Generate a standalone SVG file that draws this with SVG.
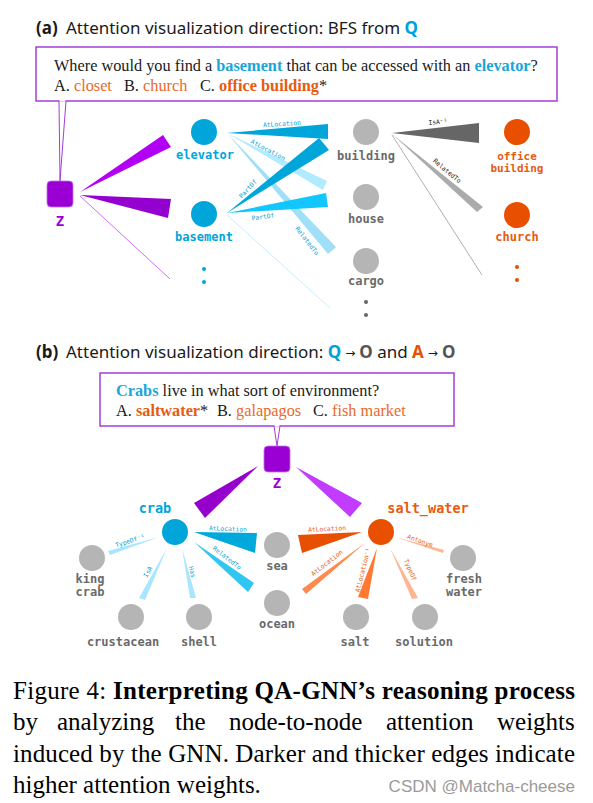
<svg xmlns="http://www.w3.org/2000/svg" width="593" height="803" viewBox="0 0 593 803">
<style>
.hdr{font-family:"Noto Sans","Open Sans",sans-serif;font-size:17px;fill:#1a1a1a}
.b{font-weight:bold}
.arr{font-family:"DejaVu Sans",sans-serif;font-size:12px}
.q{font-family:"Liberation Serif","Times New Roman",serif;font-size:16.3px;fill:#1a1a1a}
.qb{fill:#1aa6d8;font-weight:bold}
.qo{fill:#ea6a2a}
.qob{fill:#e85a10;font-weight:bold}
.box{fill:#fff;stroke:#a43ddb;stroke-width:1.5}
.tail{fill:#fff;stroke:#a43ddb;stroke-width:1}
.lbl{font-family:"DejaVu Sans Mono",monospace;font-weight:bold;font-size:12px;text-anchor:middle}
.blue{fill:#00a6da}
.gray{fill:#b5b5b5}
.gtx{fill:#6a6a6a}
.org{fill:#e85000}
.otx{fill:#e85a10}
.zn{fill:#9a00d4;stroke:#c070f0;stroke-width:0.8}
.zt{fill:#9a00d4;font-size:14px}
.el{font-family:"DejaVu Sans Mono",monospace;font-size:6.3px;text-anchor:middle}
.elb{fill:#0aa0d4}
.elo{fill:#e85a10}
.elk{fill:#222}
.cap{font-family:"Liberation Serif","Times New Roman",serif;font-size:25px;fill:#000}
</style>

<!-- Headers -->
<text class="hdr" x="36" y="34"><tspan class="b">(a)</tspan><tspan x="66">Attention visualization direction: BFS from </tspan><tspan class="b" fill="#00a0dc">Q</tspan></text>
<text class="hdr" x="36" y="358"><tspan class="b">(b)</tspan><tspan x="66">Attention visualization direction: </tspan><tspan class="b" fill="#00a0dc">Q</tspan><tspan class="arr" dx="4" dy="-1.5">→</tspan><tspan class="b" fill="#555" dx="4" dy="1.5">O</tspan><tspan> and </tspan><tspan class="b" fill="#e85000">A</tspan><tspan class="arr" dx="4" dy="-1.5">→</tspan><tspan class="b" fill="#555" dx="4" dy="1.5">O</tspan></text>

<!-- Question box (a) -->
<g id="question-a">
<rect class="box" x="36" y="47" width="521" height="54"/>
<polygon class="tail" points="59,101 66,101 60,181"/>
<line x1="59.6" y1="100.5" x2="65.4" y2="100.5" stroke="#fff" stroke-width="2"/>
<text class="q" x="54" y="71">Where would you find a <tspan class="qb">basement</tspan> that can be accessed with an <tspan class="qb">elevator</tspan>?</text>
<text class="q" x="54" y="91">A. <tspan class="qo">closet</tspan><tspan x="124">B. </tspan><tspan class="qo">church</tspan><tspan x="200">C. </tspan><tspan class="qob">office building</tspan>*</text>
</g>

<!-- Question box (b) -->
<g id="question-b">
<rect class="box" x="100" y="373" width="354" height="53"/>
<polygon class="tail" points="274,426 280,426 277,446"/>
<line x1="274.6" y1="425.5" x2="279.4" y2="425.5" stroke="#fff" stroke-width="2"/>
<text class="q" x="116" y="396"><tspan class="qb">Crabs</tspan> live in what sort of environment?</text>
<text class="q" x="116" y="416">A. <tspan class="qob">saltwater</tspan>*<tspan x="217">B. </tspan><tspan class="qo">galapagos</tspan><tspan x="313">C. </tspan><tspan class="qo">fish market</tspan></text>
</g>

<!-- Connectors -->
<g id="connectors">
<!-- (a) -->
<polygon points="80,192 163,135 171,147" fill="#b200f5"/>
<polygon points="80,195 171,199 168,218" fill="#9400d0"/>
<line x1="80" y1="196" x2="170" y2="279" stroke="#cf6ef8" stroke-width="1"/>
<polygon points="227,133 327,181 323,190" fill="#b0ebff"/>
<polygon points="227,133 336,247 328,254" fill="#9fdff7"/>
<line x1="227" y1="215" x2="330" y2="308" stroke="#c5eefc" stroke-width="1"/>
<polygon points="227,213 326,193 328,207" fill="#12c6ff"/>
<polygon points="227,133 328,124 328,139" fill="#00a6da"/>
<polygon points="227,213 319,138 329,150" fill="#00a6da"/>
<polygon points="392,133 479,123 479,143" fill="#666"/>
<polygon points="392,134 483,207 477,212" fill="#ababab"/>
<line x1="392" y1="135" x2="482" y2="275" stroke="#b0b0b0" stroke-width="1"/>
<text class="el elb" transform="translate(282,124) rotate(-4)" y="2">AtLocation</text>
<text class="el elb" transform="translate(268,150) rotate(28)" y="2">AtLocation</text>
<text class="el elb" transform="translate(248,189) rotate(-47)" y="2">PartOf</text>
<text class="el elb" transform="translate(263,217) rotate(-8)" y="2">PartOf</text>
<text class="el elb" transform="translate(307,241) rotate(52)" y="2">RelatedTo</text>
<text class="el elk" transform="translate(438,122) rotate(-6)" y="2">IsA⁻¹</text>
<text class="el elk" transform="translate(447,171) rotate(40)" y="2">RelatedTo</text>
<!-- (b) -->
<polygon points="258,466 194,503 205,518" fill="#9600cc"/>
<polygon points="296,467 362,503 350,517" fill="#c13cff"/>
<polygon points="159,537 108,551 110,555" fill="#a8e6ff"/>
<polygon points="167,548 139,598 145,600" fill="#a8e6ff"/>
<polygon points="182,548 190,598 196,598" fill="#a8e6ff"/>
<polygon points="194,532 257,533 255,553" fill="#00a8dc"/>
<polygon points="194,542 254,583 248,592" fill="#30c6f2"/>
<polygon points="362,532 298,535 302,553" fill="#e65000"/>
<polygon points="365,543 302,589 306,594" fill="#ff8a4c"/>
<polygon points="377,548 358,597 368,599" fill="#ff7a30"/>
<polygon points="390,548 412,599 418,598" fill="#ffb58f"/>
<polygon points="395,537 443,553 444,550" fill="#ffb58f"/>
<text class="el elb" transform="translate(130,541) rotate(-18)" y="2">TypeOf⁻¹</text>
<text class="el elb" transform="translate(148,572) rotate(-62)" y="2">IsA</text>
<text class="el elb" transform="translate(192,572) rotate(78)" y="2">Has</text>
<text class="el elb" transform="translate(228,529) rotate(2)" y="2">AtLocation</text>
<text class="el elb" transform="translate(227,558) rotate(38)" y="2">RelatedTo</text>
<text class="el elo" transform="translate(327,529) rotate(-3)" y="2">AtLocation</text>
<text class="el elo" transform="translate(327,563) rotate(-38)" y="2">AtLocation</text>
<text class="el elo" transform="translate(363,570) rotate(-76)" y="2">AtLocation⁻¹</text>
<text class="el elo" transform="translate(410,570) rotate(67)" y="2">TypeOf</text>
<text class="el elo" transform="translate(420,541) rotate(20)" y="2">Antonym</text>
</g>

<!-- Nodes (a) -->
<g id="z-a"><rect class="zn" x="47" y="181" width="26" height="26" rx="4"/><text class="lbl zt" x="60" y="226">Z</text></g>
<g id="elevator"><circle class="blue" cx="204" cy="132" r="13"/><text class="lbl blue" x="205" y="159">elevator</text></g>
<g id="basement"><circle class="blue" cx="204" cy="214" r="13"/><text class="lbl blue" x="204" y="241">basement</text></g>
<g id="dots-a1"><circle class="blue" cx="204" cy="269" r="2"/><circle class="blue" cx="204" cy="282" r="2"/></g>
<g id="building"><circle class="gray" cx="366" cy="132" r="13"/><text class="lbl gtx" x="366" y="160">building</text></g>
<g id="house"><circle class="gray" cx="366" cy="197" r="13"/><text class="lbl gtx" x="366" y="223">house</text></g>
<g id="cargo"><circle class="gray" cx="366" cy="261" r="13"/><text class="lbl gtx" x="366" y="285">cargo</text></g>
<g id="dots-a2"><circle fill="#666" cx="366" cy="302" r="2"/><circle fill="#666" cx="366" cy="315" r="2"/></g>
<g id="office-building"><circle class="org" cx="517" cy="132" r="13"/><text class="lbl otx" style="font-size:11px" x="517" y="160">office</text><text class="lbl otx" style="font-size:11px" x="517" y="172">building</text></g>
<g id="church"><circle class="org" cx="517" cy="215" r="13"/><text class="lbl otx" x="517" y="241">church</text></g>
<g id="dots-a3"><circle class="org" cx="517" cy="267" r="2"/><circle class="org" cx="517" cy="280" r="2"/></g>

<!-- Nodes (b) -->
<g id="z-b"><rect class="zn" x="264" y="446" width="26" height="26" rx="4"/><text class="lbl zt" x="277" y="488">Z</text></g>
<g id="crab"><circle class="blue" cx="175" cy="532" r="13"/><text class="lbl blue" style="font-size:13.5px" x="155" y="513">crab</text></g>
<g id="salt_water"><circle class="org" cx="381" cy="532" r="13"/><text class="lbl otx" style="font-size:13.5px" x="428" y="513">salt_water</text></g>
<g id="king-crab"><circle class="gray" cx="92" cy="558" r="13"/><text class="lbl gtx" x="90" y="583">king</text><text class="lbl gtx" x="90" y="596">crab</text></g>
<g id="crustacean"><circle class="gray" cx="131" cy="617" r="13"/><text class="lbl gtx" x="123" y="646">crustacean</text></g>
<g id="shell"><circle class="gray" cx="199" cy="617" r="13"/><text class="lbl gtx" x="199" y="646">shell</text></g>
<g id="sea"><circle class="gray" cx="277" cy="545" r="13"/><text class="lbl gtx" x="277" y="570">sea</text></g>
<g id="ocean"><circle class="gray" cx="277" cy="603" r="13"/><text class="lbl gtx" x="277" y="628">ocean</text></g>
<g id="salt"><circle class="gray" cx="356" cy="617" r="13"/><text class="lbl gtx" x="355" y="646">salt</text></g>
<g id="solution"><circle class="gray" cx="425" cy="617" r="13"/><text class="lbl gtx" x="424" y="646">solution</text></g>
<g id="fresh-water"><circle class="gray" cx="463" cy="558" r="13"/><text class="lbl gtx" x="464" y="583">fresh</text><text class="lbl gtx" x="464" y="596">water</text></g>

<!-- Caption -->
<g id="caption">
<text class="cap" x="13" y="699" textLength="562" lengthAdjust="spacing">Figure 4: <tspan font-weight="bold">Interpreting QA-GNN’s reasoning process</tspan></text>
<text class="cap" y="730"><tspan x="13">by</tspan><tspan x="57">analyzing</tspan><tspan x="175">the</tspan><tspan x="229">node-to-node</tspan><tspan x="386">attention</tspan><tspan x="497">weights</tspan></text>
<text class="cap" x="13" y="762" textLength="562" lengthAdjust="spacing">induced by the GNN. Darker and thicker edges indicate</text>
<text class="cap" x="13" y="793">higher attention weights.</text>
<text x="575" y="792" text-anchor="end" font-family="Liberation Sans, Arial, sans-serif" font-size="17" fill="#9a9a9a">CSDN @Matcha-cheese</text>
</g>
</svg>
